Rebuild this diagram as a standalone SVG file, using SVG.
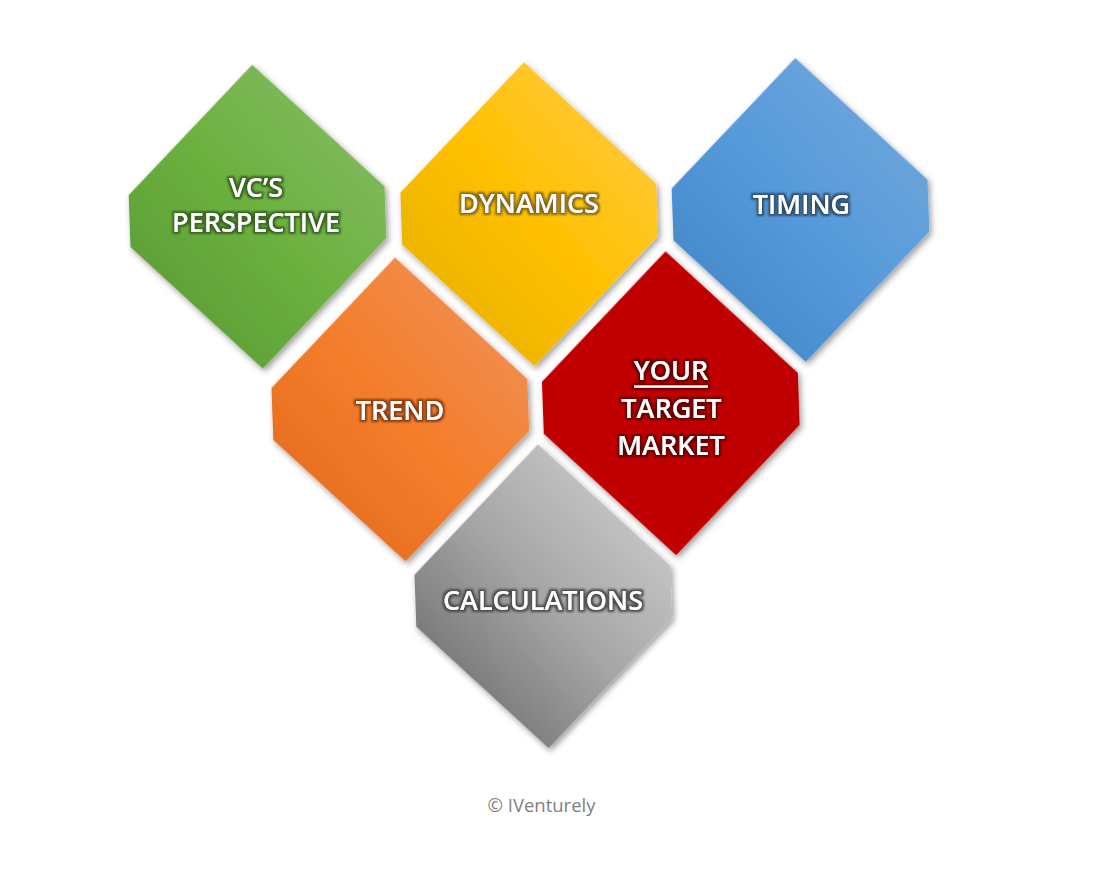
<svg xmlns="http://www.w3.org/2000/svg" width="1096" height="874" viewBox="0 0 1096 874">
<style>
.lbl{font-family:"Open Sans","Noto Sans","Liberation Sans",sans-serif;font-weight:600;font-size:27px;fill:#ffffff;text-anchor:middle}
.copy{font-family:"Open Sans","Noto Sans","Liberation Sans",sans-serif;font-size:18.5px;fill:#7f7f7f;text-anchor:middle}
</style>
<defs>
<polygon id="oct" points="0,-152 128,-26 128,26 0,152 -128,26 -128,-26"/>
<filter id="sh" x="-10%" y="-10%" width="125%" height="125%">
<feDropShadow dx="2" dy="3" stdDeviation="3" flood-color="#000" flood-opacity="0.4"/>
</filter>
<linearGradient id="gGreen" x1="0" y1="1" x2="1" y2="0"><stop offset="0" stop-color="#579632"/><stop offset="0.5" stop-color="#6cb13f"/><stop offset="1" stop-color="#89bd6a"/></linearGradient>
<linearGradient id="gYellow" x1="0" y1="1" x2="1" y2="0"><stop offset="0" stop-color="#e2ad00"/><stop offset="0.5" stop-color="#ffc000"/><stop offset="1" stop-color="#ffcc4d"/></linearGradient>
<linearGradient id="gBlue" x1="0" y1="1" x2="1" y2="0"><stop offset="0" stop-color="#3f82c4"/><stop offset="0.5" stop-color="#559ada"/><stop offset="1" stop-color="#77a9dc"/></linearGradient>
<linearGradient id="gOrange" x1="0" y1="1" x2="1" y2="0"><stop offset="0" stop-color="#e0661b"/><stop offset="0.5" stop-color="#f47e2c"/><stop offset="1" stop-color="#f0935e"/></linearGradient>
<linearGradient id="gGray" x1="0" y1="1" x2="1" y2="0"><stop offset="0" stop-color="#5e5e5e"/><stop offset="0.5" stop-color="#a6a6a6"/><stop offset="1" stop-color="#d6d6d6"/></linearGradient>
<filter id="tGreen" x="-20%" y="-60%" width="140%" height="220%"><feMorphology in="SourceAlpha" operator="dilate" radius="2" result="d"/><feGaussianBlur in="d" stdDeviation="1.2" result="b"/><feFlood flood-color="#36641c"/><feComposite in2="b" operator="in" result="g"/><feMerge><feMergeNode in="g"/><feMergeNode in="SourceGraphic"/></feMerge></filter>
<filter id="tYellow" x="-20%" y="-60%" width="140%" height="220%"><feMorphology in="SourceAlpha" operator="dilate" radius="2" result="d"/><feGaussianBlur in="d" stdDeviation="1.2" result="b"/><feFlood flood-color="#86680a"/><feComposite in2="b" operator="in" result="g"/><feMerge><feMergeNode in="g"/><feMergeNode in="SourceGraphic"/></feMerge></filter>
<filter id="tBlue" x="-20%" y="-60%" width="140%" height="220%"><feMorphology in="SourceAlpha" operator="dilate" radius="2" result="d"/><feGaussianBlur in="d" stdDeviation="1.2" result="b"/><feFlood flood-color="#2c4c6c"/><feComposite in2="b" operator="in" result="g"/><feMerge><feMergeNode in="g"/><feMergeNode in="SourceGraphic"/></feMerge></filter>
<filter id="tOrange" x="-20%" y="-60%" width="140%" height="220%"><feMorphology in="SourceAlpha" operator="dilate" radius="2" result="d"/><feGaussianBlur in="d" stdDeviation="1.2" result="b"/><feFlood flood-color="#8a3a10"/><feComposite in2="b" operator="in" result="g"/><feMerge><feMergeNode in="g"/><feMergeNode in="SourceGraphic"/></feMerge></filter>
<filter id="tRed" x="-20%" y="-30%" width="140%" height="160%"><feMorphology in="SourceAlpha" operator="dilate" radius="2" result="d"/><feGaussianBlur in="d" stdDeviation="1.2" result="b"/><feFlood flood-color="#600000"/><feComposite in2="b" operator="in" result="g"/><feMerge><feMergeNode in="g"/><feMergeNode in="SourceGraphic"/></feMerge></filter>
<filter id="tGray" x="-20%" y="-60%" width="140%" height="220%"><feMorphology in="SourceAlpha" operator="dilate" radius="2" result="d"/><feGaussianBlur in="d" stdDeviation="1.2" result="b"/><feFlood flood-color="#4a4a4a"/><feComposite in2="b" operator="in" result="g"/><feMerge><feMergeNode in="g"/><feMergeNode in="SourceGraphic"/></feMerge></filter>
</defs>
<rect width="1096" height="874" fill="#ffffff"/>
<g id="connectors"></g>
<g id="vcs-perspective">
<use href="#oct" transform="translate(257.5,216.7) rotate(-2)" fill="url(#gGreen)" filter="url(#sh)"/>
<g filter="url(#tGreen)"><text class="lbl" x="256" y="196.5">VC’S</text><text class="lbl" x="256" y="232">PERSPECTIVE</text></g>
</g>
<g id="dynamics">
<use href="#oct" transform="translate(529.2,214.2) rotate(-2)" fill="url(#gYellow)" filter="url(#sh)"/>
<g filter="url(#tYellow)"><text class="lbl" x="529" y="213">DYNAMICS</text></g>
</g>
<g id="timing">
<use href="#oct" transform="translate(800.5,210) rotate(-2)" fill="url(#gBlue)" filter="url(#sh)"/>
<g filter="url(#tBlue)"><text class="lbl" x="801.5" y="214">TIMING</text></g>
</g>
<g id="trend">
<use href="#oct" transform="translate(400.3,409.5) rotate(-2)" fill="url(#gOrange)" filter="url(#sh)"/>
<g filter="url(#tOrange)"><text class="lbl" x="400" y="420">TREND</text></g>
</g>
<g id="your-target-market">
<use href="#oct" transform="translate(670.8,403.3) rotate(-2)" fill="#c00000" filter="url(#sh)"/>
<g filter="url(#tRed)"><text class="lbl" x="671" y="380">YOUR</text><rect x="634" y="385.5" width="74" height="2.2" fill="#ffffff"/><text class="lbl" x="671.5" y="418">TARGET</text><text class="lbl" x="671" y="455">MARKET</text></g>
</g>
<g id="calculations">
<use href="#oct" transform="translate(543.3,596.3) rotate(-2)" fill="url(#gGray)" filter="url(#sh)"/>
<g filter="url(#tGray)"><text class="lbl" x="543" y="610">CALCULATIONS</text></g>
</g>
<text class="copy" x="541.5" y="812">© IVenturely</text>
</svg>
